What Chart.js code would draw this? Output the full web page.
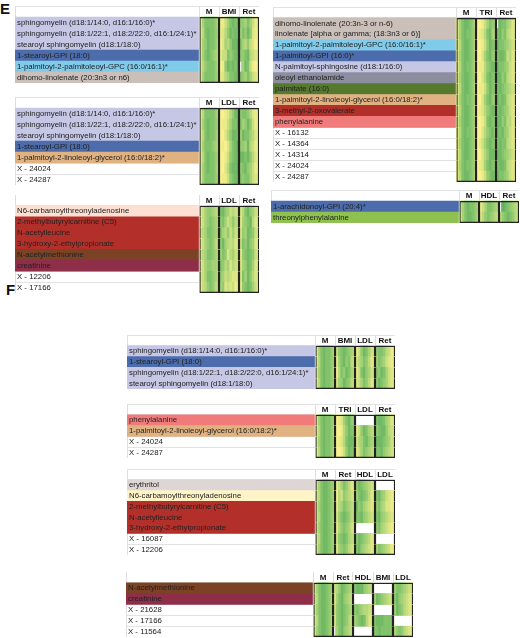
<!DOCTYPE html>
<html><head><meta charset="utf-8">
<script src="https://cdn.jsdelivr.net/npm/chart.js@4.4.1/dist/chart.umd.min.js"></script>
<style>
body{margin:0;background:#fff;width:520px;height:638px;position:relative;overflow:hidden;font-family:'Liberation Sans',Arial,sans-serif}
.p{position:absolute}
.tag{position:absolute;font-weight:bold;font-size:15px;line-height:15px;color:#111}
</style></head><body>
<div class="tag" style="left:0px;top:1px">E</div>
<div class="tag" style="left:6px;top:282px">F</div>
<script>
// ---------- DATA ----------
// cell strings: one string per block, 8 stripes per block, digit 0 (low, yellow) .. 9 (high, green), '-' = missing
const e1Columns = ['M','BMI','Ret'];
const e1Labels = ['sphingomyelin (d18:1/14:0, d16:1/16:0)*','sphingomyelin (d18:1/22:1, d18:2/22:0, d16:1/24:1)*','stearoyl sphingomyelin (d18:1/18:0)','1-stearoyl-GPI (18:0)','1-palmitoyl-2-palmitoleoyl-GPC (16:0/16:1)*','dihomo-linolenate (20:3n3 or n6)'];
const e1Groups = ['sm','sm','sm','pi','pc','fa'];
const e1Cells = [
 ['15777763','11357878','66575311'],
 ['14787764','12468787','57686210'],
 ['15687763','02546889','75463200'],
 ['15787653','13376788','66784321'],
 ['14677763','01687879','-5873100'],
 ['15777764','12457788','76575320']];

const e2Columns = ['M','LDL','Ret'];
const e2Labels = ['sphingomyelin (d18:1/14:0, d16:1/16:0)*','sphingomyelin (d18:1/22:1, d18:2/22:0, d16:1/24:1)*','stearoyl sphingomyelin (d18:1/18:0)','1-stearoyl-GPI (18:0)','1-palmitoyl-2-linoleoyl-glycerol (16:0/18:2)*','X - 24024','X - 24287'];
const e2Groups = ['sm','sm','sm','pi','dag','x','x'];
const e2Cells = [
 ['14777763','00124688','67764210'],
 ['15787764','01135778','75686310'],
 ['14787763','00246887','58775420'],
 ['15777653','01025789','66584310'],
 ['14787764','00136788','88786420'],
 ['15787763','00247889','67865310'],
 ['15777764','01136788','76775321']];

const e3Columns = ['M','LDL','Ret'];
const e3Labels = ['N6-carbamoylthreonyladenosine','2-methylbutyrylcarnitine (C5)','N-acetylleucine','3-hydroxy-2-ethylpropionate','N-acetylmethionine','creatinine','X - 12206','X - 17166'];
const e3Groups = ['nucA','bcaa','bcaa','bcaa','met','creat','x','x'];
const e3Cells = [
 ['13566543','78653432','24786531'],
 ['13567653','67534643','15678421'],
 ['24577654','75463532','26587631'],
 ['13567643','68543421','37686520'],
 ['24577653','57624532','16787631'],
 ['13566554','76452431','25687521'],
 ['23577653','65343221','27586421'],
 ['13467643','56232310','16787530']];

const e4Columns = ['M','TRI','Ret'];
const e4Labels = ['dihomo-linolenate (20:3n-3 or n-6)','linolenate [alpha or gamma; (18:3n3 or 6)]','1-palmitoyl-2-palmitoleoyl-GPC (16:0/16:1)*','1-palmitoyl-GPI (16:0)*','N-palmitoyl-sphingosine (d18:1/16:0)','oleoyl ethanolamide','palmitate (16:0)','1-palmitoyl-2-linoleoyl-glycerol (16:0/18:2)*','3-methyl-2-oxovalerate','phenylalanine','X - 16132','X - 14364','X - 14314','X - 24024','X - 24287'];
const e4Groups = ['fa','fa','pc','pi','sm','ea','sfa','dag','bcaa','phe','x','x','x','x','x'];
const e4Cells = [
 ['25788763','00135765','-8775421'],
 ['25787764','01247854','78674321'],
 ['24788763','00136876','87765431'],
 ['25788764','00257865','78873421'],
 ['24787763','01146787','87765321'],
 ['25788764','00247876','88674321'],
 ['24788763','01136876','78765432'],
 ['25787764','00257865','87874321'],
 ['24788763','01246787','78765321'],
 ['25788764','00137876','88674421'],
 ['24787763','00246785','87865321'],
 ['25788764','01357876','78774321'],
 ['24788763','00246887','88765431'],
 ['25787764','01257876','78874321'],
 ['24788763','00136787','87765321']];

const e5Columns = ['M','HDL','Ret'];
const e5Labels = ['1-arachidonoyl-GPI (20:4)*','threonylphenylalanine'];
const e5Groups = ['pi','dipep'];
const e5Cells = [
 ['35787764','13577654','-9876543'],
 ['25788763','24676542','46787643']];

const f1Columns = ['M','BMI','LDL','Ret'];
const f1Labels = ['sphingomyelin (d18:1/14:0, d16:1/16:0)*','1-stearoyl-GPI (18:0)','sphingomyelin (d18:1/22:1, d18:2/22:0, d16:1/24:1)*','stearoyl sphingomyelin (d18:1/18:0)'];
const f1Groups = ['sm','pi','sm','sm'];
const f1Cells = [
 ['15787763','36787653','13687531','67764310'],
 ['14787764','15786742','24576421','57653211'],
 ['15787763','04768753','13786532','76875320'],
 ['14787764','25687642','23576421','68765321']];

const f2Columns = ['M','TRI','LDL','Ret'];
const f2Labels = ['phenylalanine','1-palmitoyl-2-linoleoyl-glycerol (16:0/18:2)*','X - 24024','X - 24287'];
const f2Groups = ['phe','dag','x','x'];
const f2Cells = [
 ['15787764','01257865','--------','78875421'],
 ['14787763','00146876','13687542','67886431'],
 ['15787764','01247887','24578653','88876532'],
 ['14787763','00136878','13576542','77865431']];

const f3Columns = ['M','Ret','HDL','LDL'];
const f3Labels = ['erythritol','N6-carbamoylthreonyladenosine','2-methylbutyrylcarnitine (C5)','N-acetylleucine','3-hydroxy-2-ethylpropionate','X - 16087','X - 12206'];
const f3Groups = ['sugar','nucB','bcaa','bcaa','bcaa','x','x'];
const f3Cells = [
 ['25788764','13576421','68765432','--------'],
 ['24788763','04365431','57876421','78653210'],
 ['25788764','14576542','86754321','67542210'],
 ['24788763','25787643','77865432','78654321'],
 ['25788764','14676531','--------','67543210'],
 ['24788763','26787542','68765421','--------'],
 ['25788764','15676431','78654321','57654310']];

const f4Columns = ['M','Ret','HDL','BMI','LDL'];
const f4Labels = ['N-acetylmethionine','creatinine','X - 21628','X - 17166','X - 11564'];
const f4Groups = ['met','creat','x','x','x'];
const f4Cells = [
 ['25788764','34687653','78886543','--------','57765432'],
 ['24788763','25786542','--------','58765432','68654321'],
 ['25788764','36787653','67654432','--------','58764321'],
 ['24788763','26787642','56787421','78887777','--------'],
 ['25788764','-5786542','--------','77877777','46764321']];

// ---------- STYLE / LAYOUT ----------
const PALETTE = ['#f9f18f','#ebec88','#dbe684','#cae07f','#b8d97b','#a6d276','#94ca70','#82c26a','#72b964','#63b05e'];
const GROUP_COLORS = {sm:'#c5c7e5',pi:'#4c6cab',pc:'#80cbea',fa:'#cabfb9',ea:'#8c8ea0',sfa:'#567a2d',dag:'#e0b281',
  bcaa:'#b3302a',phe:'#f17b7b',nucA:'#fde0d2',nucB:'#fff3c8',met:'#7b4226',creat:'#8f2e49',dipep:'#8fc150',sugar:'#ddd6d4',x:null};
const FONT = "'Liberation Sans', Arial, sans-serif";
const BLOCK = 20, STRIPES = 8;
const panels = [
 {labels:e1Labels,groups:e1Groups,columns:e1Columns,cells:e1Cells,left:15,top:6,h:77,labelW:184},
 {labels:e2Labels,groups:e2Groups,columns:e2Columns,cells:e2Cells,left:15,top:97,h:88,labelW:184},
 {labels:e3Labels,groups:e3Groups,columns:e3Columns,cells:e3Cells,left:15,top:195,h:98,labelW:184},
 {labels:e4Labels,groups:e4Groups,columns:e4Columns,cells:e4Cells,left:273,top:7,h:175,labelW:183},
 {labels:e5Labels,groups:e5Groups,columns:e5Columns,cells:e5Cells,left:271,top:190,h:33,labelW:188},
 {labels:f1Labels,groups:f1Groups,columns:f1Columns,cells:f1Cells,left:127,top:335,h:54,labelW:188},
 {labels:f2Labels,groups:f2Groups,columns:f2Columns,cells:f2Cells,left:127,top:404,h:54,labelW:188},
 {labels:f3Labels,groups:f3Groups,columns:f3Columns,cells:f3Cells,left:127,top:469,h:86,labelW:188},
 {labels:f4Labels,groups:f4Groups,columns:f4Columns,cells:f4Cells,left:126,top:572,h:65,labelW:187}
];

function build(p){
  const nB = p.columns.length, S = STRIPES;
  const unit = BLOCK / S, L = p.labelW / unit;
  const div = document.createElement('div'); div.className = 'p';
  Object.assign(div.style,{left:p.left+'px',top:p.top+'px',width:(p.labelW+nB*BLOCK)+'px',height:p.h+'px'});
  const cv = document.createElement('canvas'); div.appendChild(cv); document.body.appendChild(div);
  const yLabels = [''].concat(p.labels);
  const n = yLabels.length;
  const datasets = [];
  // block outlines
  p.columns.forEach((c,b)=>{
    datasets.push({order:-2,data:yLabels.map((_,i)=> i===0?null:[b*S,b*S+S]),backgroundColor:'rgba(0,0,0,0)',borderColor:'#222',
      borderSkipped:false,inflateAmount:0,
      borderWidth:ctx=>({left:1.1,right:1.1,top:ctx.dataIndex===1?1.2:0,bottom:ctx.dataIndex===n-1?1.2:0})});
  });
  // heatmap stripes
  for(let b=0;b<nB;b++) for(let s=0;s<S;s++){
    const vals = yLabels.map((_,i)=>{ if(i===0) return null; const ch = p.cells[i-1][b][s]; return ch==='-'?null:+ch; });
    datasets.push({order:0,data:vals.map(v=>v===null?null:[b*S+s,b*S+s+1]),backgroundColor:vals.map(v=>v===null?'#fff':PALETTE[v]),borderWidth:0});
  }
  // label backgrounds
  datasets.push({order:2,data:yLabels.map((_,i)=> (i===0||!GROUP_COLORS[p.groups[i-1]])?null:[-L,0]),
    backgroundColor:yLabels.map((_,i)=> i===0?'#fff':(GROUP_COLORS[p.groups[i-1]]||'#fff')),borderWidth:0});
  const isCenter = v => v>0 && Math.abs(((v - S/2)/S) - Math.round((v - S/2)/S))<1e-6;
  new Chart(cv,{type:'bar',data:{labels:yLabels,datasets},
    options:{indexAxis:'y',responsive:true,maintainAspectRatio:false,animation:false,
      layout:{padding:0},
      datasets:{bar:{grouped:false,barPercentage:1,categoryPercentage:1}},
      plugins:{legend:{display:false},tooltip:{enabled:false}},
      scales:{
        x:{type:'linear',position:'top',min:-L,max:nB*S,bounds:'data',
          afterBuildTicks:sc=>{const t=[{value:-L}];for(let b=0;b<nB;b++){t.push({value:b*S});t.push({value:b*S+S/2});}t.push({value:nB*S});sc.ticks=t;},
          ticks:{autoSkip:false,mirror:true,padding:1,maxRotation:0,z:1,color:'#111',font:{family:FONT,size:8,weight:'bold'},
            callback:v=> isCenter(v)? p.columns[Math.round((v-S/2)/S)] : ''},
          grid:{drawTicks:false,color:c=> (c.tick && isCenter(c.tick.value))?'rgba(0,0,0,0)':'#dedede',lineWidth:1},
          border:{display:false},
          afterFit:sc=>{sc.height=0;sc.paddingLeft=0;sc.paddingRight=0;}},
        y:{type:'category',labels:yLabels,offset:true,position:'left',
          ticks:{mirror:true,padding:2,autoSkip:false,z:1,color:'#222',font:{family:FONT,size:7.8}},
          grid:{offset:true,drawTicks:false,color:'#e2e2e2'},
          border:{display:false},
          afterFit:sc=>{sc.width=0;sc.paddingTop=0;sc.paddingBottom=0;}}
      }}});
}
panels.forEach(build);
</script>
</body></html>
